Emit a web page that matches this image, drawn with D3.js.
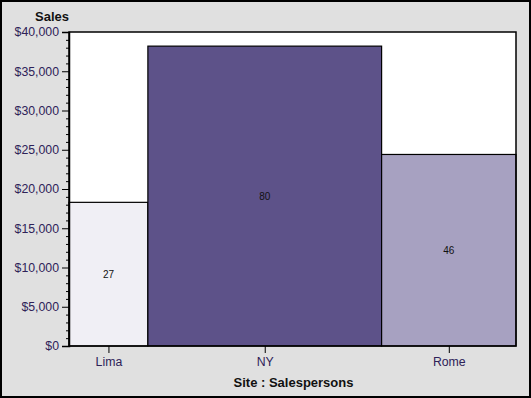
<!DOCTYPE html>
<html><head><meta charset="utf-8">
<script src="https://cdn.jsdelivr.net/npm/d3@7"></script>
<style>
html,body{margin:0;padding:0;background:#e0e0e0;}
svg{display:block;font-family:"Liberation Sans",Arial,sans-serif;}
</style></head>
<body><svg id="c" width="531" height="398"></svg>
<script>
const sites = ["Lima", "NY", "Rome"];
const salespersons = [27, 80, 46];
const sales = [18300, 38200, 24400];
const colors = ["#f0eff5", "#5d5289", "#a7a1c1"];
const yTicks = [0, 5000, 10000, 15000, 20000, 25000, 30000, 35000, 40000];

const svg = d3.select("#c");
const L = 69, R = 516, T = 32, B = 346;
svg.append("rect").attr("x",0).attr("y",0).attr("width",531).attr("height",398).attr("fill","#e0e0e0");
svg.append("rect").attr("x",1).attr("y",1).attr("width",529).attr("height",396)
  .attr("fill","none").attr("stroke","#000").attr("stroke-width",2);

const total = d3.sum(salespersons);
const x = d3.scaleLinear().domain([0,total]).range([L,R]);
const y = d3.scaleLinear().domain([0,40000]).range([B,T]);

svg.append("rect").attr("x",L).attr("y",T).attr("width",R-L).attr("height",B-T).attr("fill","#fff");

const starts = [];
let acc = 0;
salespersons.forEach(v => { starts.push(acc); acc += v; });

const g = svg.append("g");
sites.forEach((s,i) => {
  const x0 = x(starts[i]), x1 = x(starts[i]+salespersons[i]);
  g.append("rect").attr("x",x0).attr("y",y(sales[i])).attr("width",x1-x0).attr("height",y(0)-y(sales[i]))
    .attr("fill",colors[i]).attr("stroke","#000").attr("stroke-width",1.2);
  g.append("text").attr("x",(x0+x1)/2).attr("y",(y(sales[i])+y(0))/2+3.5)
    .attr("text-anchor","middle").attr("font-size",10).attr("fill","#111").text(salespersons[i]);
});

svg.append("rect").attr("x",L).attr("y",T).attr("width",R-L).attr("height",B-T)
  .attr("fill","none").attr("stroke","#000").attr("stroke-width",1.5);

// minor ticks
const minor = d3.range(0,40001,1000).filter(v => v % 5000 !== 0);
svg.append("g").attr("transform",`translate(${L},0)`)
  .call(d3.axisLeft(y).tickValues(minor).tickSize(3).tickFormat(""))
  .call(a => a.select(".domain").remove())
  .selectAll("line").attr("stroke","#000");

const ya = svg.append("g").attr("transform",`translate(${L},0)`)
  .call(d3.axisLeft(y).tickValues(yTicks).tickSize(7).tickPadding(3).tickFormat(d => "$" + d3.format(",")(d)));
ya.select(".domain").attr("stroke","#000").attr("stroke-width",1.5);
ya.selectAll("line").attr("stroke","#000");
ya.selectAll("text").attr("font-size",12.3).attr("fill","#2e2258").attr("font-family","Liberation Sans, Arial, sans-serif");

const centers = sites.map((s,i) => starts[i] + salespersons[i]/2);
const xa = svg.append("g").attr("transform",`translate(0,${B})`)
  .call(d3.axisBottom(x).tickValues(centers).tickSize(7).tickPadding(4).tickFormat((d,i) => sites[i]));
xa.select(".domain").remove();
xa.selectAll("line").attr("stroke","#000");
xa.selectAll("text").attr("font-size",12.3).attr("fill","#2e2258").attr("font-family","Liberation Sans, Arial, sans-serif");

svg.append("text").attr("x",52).attr("y",21).attr("text-anchor","middle")
  .attr("font-size",13).attr("font-weight","bold").attr("fill","#111").text("Sales");
svg.append("text").attr("x",(L+R)/2 + 1).attr("y",387).attr("text-anchor","middle")
  .attr("font-size",13).attr("font-weight","bold").attr("fill","#111").text("Site : Salespersons");
</script></body></html>
